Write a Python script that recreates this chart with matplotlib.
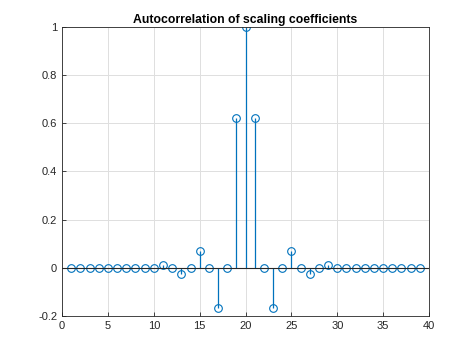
import matplotlib
matplotlib.use('Agg')
import matplotlib.pyplot as plt

plt.rcParams['font.family'] = ['Liberation Sans', 'DejaVu Sans']

# lag index and autocorrelation values
lags = list(range(1, 40))
acf = [0, 0, 0, 0, 0, 0, 0, 0, -0.002, 0,
       0.01, 0, -0.025, 0, 0.068, 0, -0.168, 0, 0.62, 1.0,
       0.62, 0, -0.168, 0, 0.068, 0, -0.025, 0, 0.01, 0,
       0, 0, 0, 0, 0, 0, 0, 0, 0]

x_ticks = [0, 5, 10, 15, 20, 25, 30, 35, 40]
y_ticks = [-0.2, 0, 0.2, 0.4, 0.6, 0.8, 1]
y_labels = ['-0.2', '0', '0.2', '0.4', '0.6', '0.8', '1']

blue = '#0072BD'

fig = plt.figure(figsize=(4.74, 3.55), dpi=100)
ax = fig.add_axes([0.131, 0.110, 0.774, 0.814])

ml, sl, bl = ax.stem(lags, acf, basefmt='-')
plt.setp(sl, color=blue, linewidth=0.9)
plt.setp(ml, markerfacecolor='none', markeredgecolor=blue, markersize=5.5, markeredgewidth=0.8)
plt.setp(bl, color='#262626', linewidth=0.8)
bl.set_xdata([0, 40])

ax.set_xlim(0, 40)
ax.set_ylim(-0.2, 1)
ax.set_xticks(x_ticks)
ax.set_yticks(y_ticks)
ax.set_yticklabels(y_labels)
ax.grid(True, color='#dfdfdf', linewidth=0.7)
ax.set_axisbelow(True)
ax.tick_params(direction='in', length=3, labelsize=8, colors='#262626', width=0.6)
for s in ax.spines.values():
    s.set_color('#262626')
    s.set_linewidth(0.6)

ax.set_title('Autocorrelation of scaling coefficients', fontsize=8.8, fontweight='bold', pad=3)

fig.savefig('out.png', dpi=100)
